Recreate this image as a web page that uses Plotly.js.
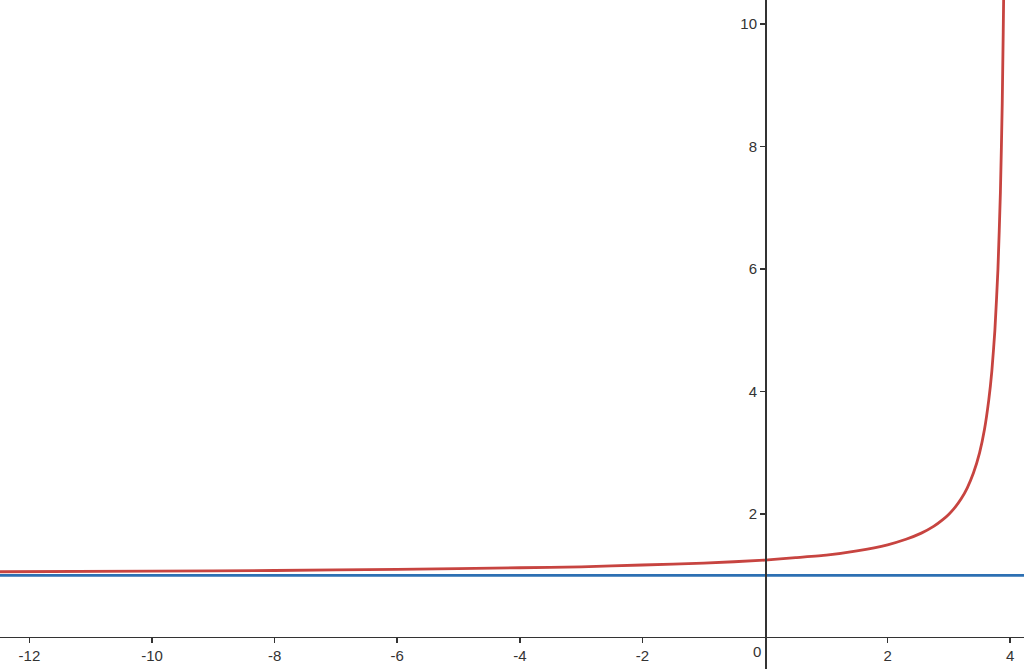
<!DOCTYPE html>
<html>
<head>
<meta charset="utf-8">
<script src="https://cdn.plot.ly/plotly-3.0.1.min.js"></script>
<style>html,body{margin:0;padding:0;background:#fff;}#chart{width:1024px;height:669px;}</style>
</head>
<body>
<div id="chart"></div>
<script>
// Red curve
var redX = [-12.5, -10, -8, -6, -4, -3, -2, -1, 0, 0.5, 1, 1.5, 2, 2.3, 2.55, 2.75, 2.9, 3.0, 3.1, 3.2, 3.3, 3.4, 3.5, 3.58, 3.65, 3.7, 3.75, 3.8, 3.84, 3.87, 3.9, 3.92];
var redY = [1.06, 1.07, 1.08, 1.10, 1.125, 1.14, 1.17, 1.2, 1.25, 1.29, 1.33, 1.4, 1.5, 1.59, 1.69, 1.8, 1.91, 2.0, 2.11, 2.25, 2.43, 2.67, 3.0, 3.38, 3.86, 4.33, 5.0, 6.0, 7.25, 8.7, 11.0, 13.5];
// Blue horizontal line
var blueX = [-12.5, 4.3];
var blueY = [1, 1];
// Axis ticks
var xTickVals = [-12, -10, -8, -6, -4, -2, 2, 4];
var xTickText = ["-12", "-10", "-8", "-6", "-4", "-2", "2", "4"];
var yTickVals = [2, 4, 6, 8, 10];
var yTickText = ["2", "4", "6", "8", "10"];
var xRange = [-12.48, 4.225];
var yRange = [-0.527, 10.39];

var xPos = (0 - yRange[0]) / (yRange[1] - yRange[0]);
var yPos = (0 - xRange[0]) / (xRange[1] - xRange[0]);

var traces = [
  {x: blueX, y: blueY, mode: 'lines', line: {color: '#2d70b3', width: 2.8}, hoverinfo: 'skip'},
  {x: redX, y: redY, mode: 'lines', line: {color: '#c74440', width: 2.8, shape: 'spline', smoothing: 0.5}, hoverinfo: 'skip'}
];

var tickFont = {family: 'Liberation Sans, Arial, sans-serif', size: 15, color: '#333'};

var layout = {
  width: 1024, height: 669,
  margin: {l: 0, r: 0, t: 0, b: 0, pad: 0},
  paper_bgcolor: '#fff', plot_bgcolor: '#fff',
  showlegend: false,
  xaxis: {
    range: xRange, anchor: 'free', position: xPos,
    showgrid: false, zeroline: false, showline: true, linecolor: '#333', linewidth: 1.6,
    ticks: 'outside', ticklen: 5, tickwidth: 1.5, tickcolor: '#333',
    tickvals: xTickVals, ticktext: xTickText, tickfont: tickFont
  },
  yaxis: {
    range: yRange, anchor: 'free', position: yPos,
    showgrid: false, zeroline: false, showline: true, linecolor: '#333', linewidth: 1.6,
    ticks: 'outside', ticklen: 5, tickwidth: 1.5, tickcolor: '#333',
    tickvals: yTickVals, ticktext: yTickText, tickfont: tickFont
  },
  annotations: [
    {x: 0, y: 0, xref: 'x', yref: 'y', text: '0', showarrow: false, xanchor: 'right', yanchor: 'top',
     xshift: -2, yshift: -4, font: tickFont}
  ]
};

Plotly.newPlot('chart', traces, layout, {staticPlot: true, displayModeBar: false});
</script>
</body>
</html>
